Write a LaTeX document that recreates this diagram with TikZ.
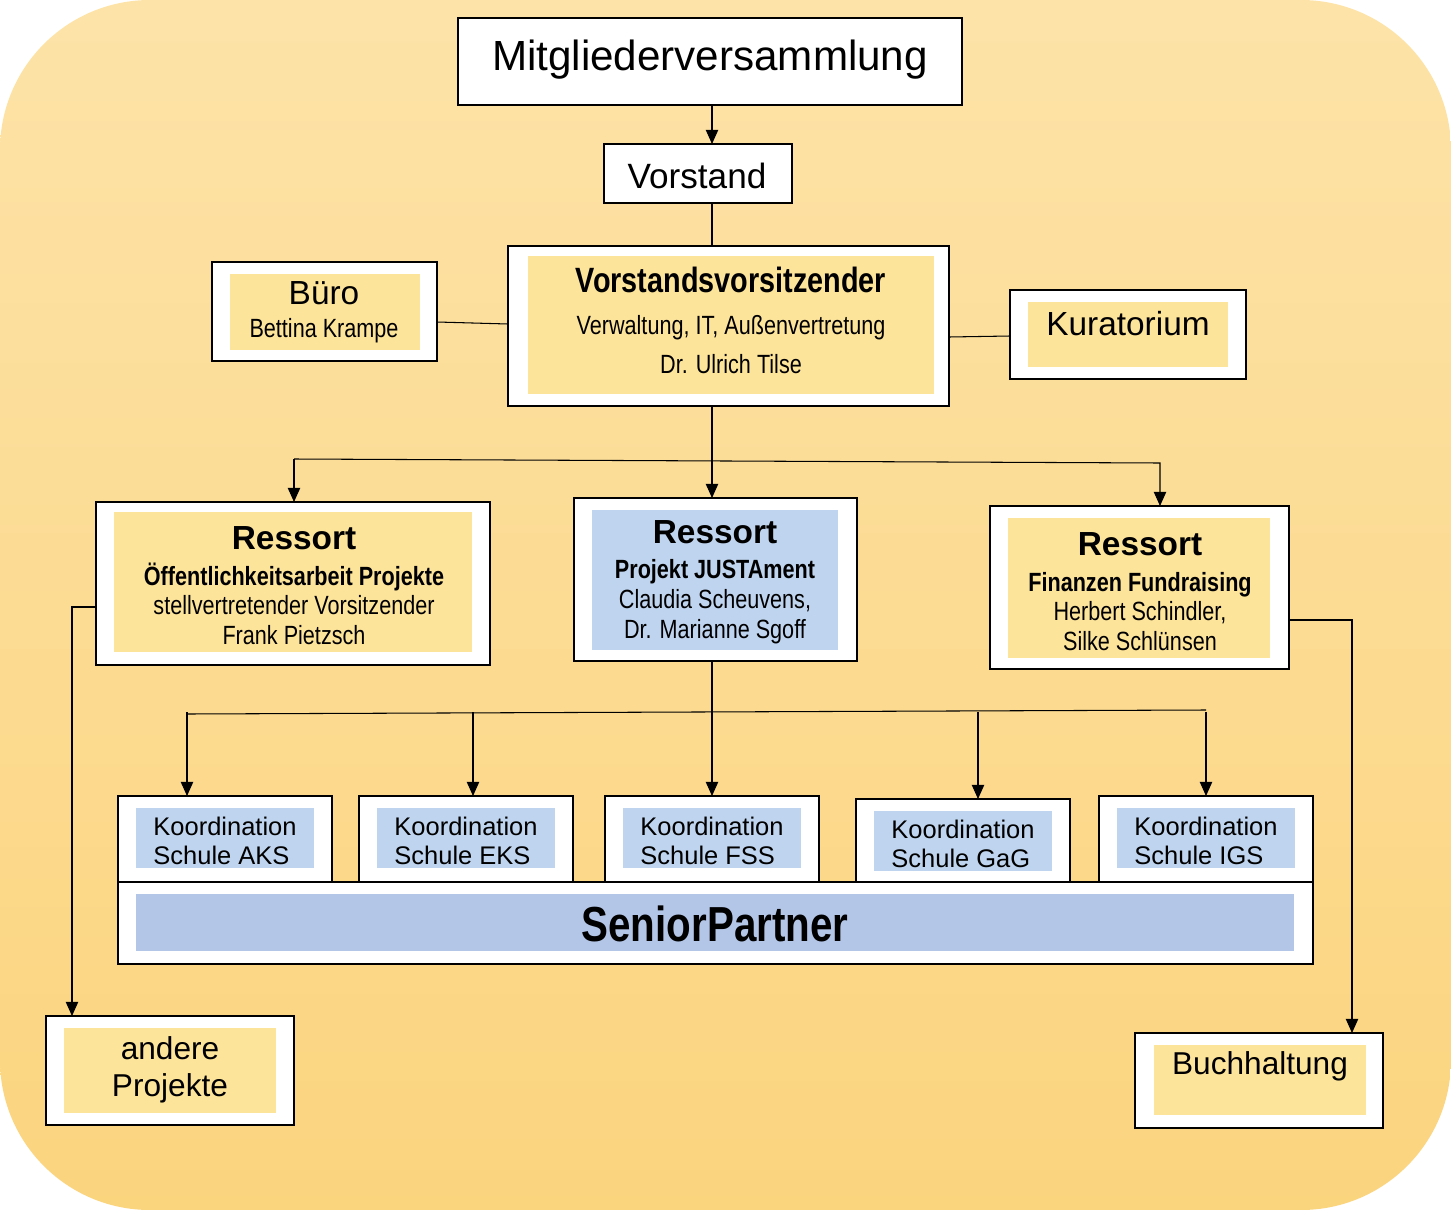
\documentclass[tikz,border=0pt]{standalone}
\usepackage{fontspec}
\setmainfont{Liberation Sans}
\newfontfamily\narrowfont[FakeStretch=0.82]{Liberation Sans}
\usetikzlibrary{arrows.meta}
\definecolor{bgtop}{HTML}{FDE3A8}
\definecolor{bgbot}{HTML}{FBD47E}
\definecolor{paleyellow}{HTML}{FDE49B}
\definecolor{paleblue}{HTML}{BFD4EE}
\definecolor{seniorblue}{HTML}{B4C6E7}
\tikzset{
  outer/.style={draw=black, fill=white, line width=0.6pt, inner sep=0pt},
  sub/.style={align=center, font=\narrowfont\fontsize{15}{17}\selectfont},
  link/.style={line width=0.6pt},
  arr/.style={line width=0.6pt, -{Triangle[length=8pt,width=7pt]}}
}
\newcommand{\pbox}[6]{% name, x1, y1, x2, y2, extra style
  \path[#6] (#2,#3) rectangle (#4,#5);
  \coordinate (#1) at ({(#2+#4)/2},{(#3+#5)/2});}
\begin{document}
\begin{tikzpicture}[x=0.02cm,y=-0.02cm]
\useasboundingbox (0,0) rectangle (1451,1210);
% background
\shade[top color=bgtop, bottom color=bgbot, rounded corners=3cm] (0,0) rectangle (1451,1210);
% top
\pbox{mv}{458}{18}{962}{105}{outer}
\node[font=\fontsize{24}{28}\selectfont] (mvT) at (710,60) {Mitgliederversammlung};
\pbox{vs}{604}{144}{792}{203}{outer}
\node[font=\fontsize{20}{24}\selectfont] (vsT) at (697,176) {Vorstand};
% Vorsitz
\pbox{vv}{508}{246}{949}{406}{outer}
\path[fill=paleyellow] (528,256) rectangle (934,394);
\node[sub, font=\narrowfont\fontsize{15}{20}\selectfont] (vvT) at (731,320)
  {{\fontsize{20}{20}\selectfont\bfseries Vorstandsvorsitzender}\\[4pt]
   Verwaltung, IT, Außenvertretung\\[2pt] Dr. Ulrich Tilse};
\pbox{bu}{212}{262}{437}{361}{outer}
\path[fill=paleyellow] (230,274) rectangle (420,350);
\node[sub] (buT) at (324,312) {{\normalfont\fontsize{19}{22}\selectfont Büro}\\[2pt] Bettina Krampe};
\pbox{ku}{1010}{290}{1246}{379}{outer}
\path[fill=paleyellow] (1028,302) rectangle (1228,367);
\node[font=\fontsize{19}{22}\selectfont] (kuT) at (1128,324) {Kuratorium};
% Ressorts
\pbox{rl}{96}{502}{490}{665}{outer}
\path[fill=paleyellow] (114,512) rectangle (472,652);
\node[sub] (rlT) at (294,586) {{\normalfont\fontsize{19}{21}\selectfont\bfseries Ressort}\\[3pt]
  \bfseries Öffentlichkeitsarbeit Projekte\\ stellvertretender Vorsitzender\\ Frank Pietzsch};
\pbox{rm}{574}{498}{857}{661}{outer}
\path[fill=paleblue] (592,510) rectangle (838,650);
\node[sub] (rmT) at (715,582) {{\normalfont\fontsize{19}{21}\selectfont\bfseries Ressort}\\[3pt]
  \bfseries Projekt JUSTAment\\ Claudia Scheuvens,\\ Dr. Marianne Sgoff};
\pbox{rr}{990}{506}{1289}{669}{outer}
\path[fill=paleyellow] (1008,518) rectangle (1270,658);
\node[sub] (rrT) at (1140,592) {{\normalfont\fontsize{19}{21}\selectfont\bfseries Ressort}\\[3pt]
  \bfseries Finanzen Fundraising\\ Herbert Schindler,\\ Silke Schlünsen};
% Koordination
\foreach \n/\xa/\ya/\lab in {k1/118/796/AKS, k2/359/796/EKS, k3/605/796/FSS, k4/856/799/GaG, k5/1099/796/IGS}{
  \pbox{\n}{\xa}{\ya}{\xa+214}{882}{outer}
  \path[fill=paleblue] (\xa+18,\ya+12) rectangle (\xa+196,\ya+72);
  \node[align=left, font=\fontsize{14.5}{16.5}\selectfont] (\n T) at (\xa+107,\ya+45) {Koordination\\Schule \lab};
}
\pbox{sp}{118}{882}{1313}{964}{outer}
\path[fill=seniorblue] (136,894) rectangle (1294,951);
\node[font=\narrowfont\fontsize{28}{30}\selectfont\bfseries] (spT) at (715,924) {SeniorPartner};
% bottom
\pbox{ap}{46}{1016}{294}{1125}{outer}
\path[fill=paleyellow] (64,1028) rectangle (276,1113);
\node[align=center, font=\fontsize{18}{21}\selectfont] (apT) at (170,1070) {andere\\Projekte};
\pbox{bh}{1135}{1033}{1383}{1128}{outer}
\path[fill=paleyellow] (1154,1045) rectangle (1366,1115);
\node[font=\fontsize{18}{21}\selectfont] (bhT) at (1260,1066) {Buchhaltung};
% connectors
\coordinate (mvB) at (712,105); \coordinate (vsA) at (712,144);
\draw[arr] (mvB) -- (vsA);
\coordinate (vsB) at (712,203); \coordinate (vvA) at (712,246);
\draw[link] (vsB) -- (vvA);
\coordinate (buR) at (437,322); \coordinate (vvL) at (508,324);
\draw[link] (buR) -- (vvL);
\coordinate (vvR) at (949,337); \coordinate (kuL) at (1010,336);
\draw[link] (vvR) -- (kuL);
\coordinate (vvB) at (712,406); \coordinate (rmA) at (712,498);
\coordinate (jL) at (294,459); \coordinate (jR) at (1160,463);
\coordinate (rlA) at (294,502); \coordinate (rrA) at (1160,506);
\draw[arr] (vvB) -- (rmA);
\draw[arr] (jL) -- (jR) -- (rrA);
\draw[arr] (jL) -- (rlA);
\coordinate (rmB) at (712,661); \coordinate (hL) at (187,714); \coordinate (hR) at (1206,710);
\draw[link] (rmB) -- (712,712);
\draw[link] (hL) -- (hR);
\foreach \x/\n/\y in {187/k1/796, 473/k2/796, 712/k3/796, 978/k4/799, 1206/k5/796}
  \draw[arr] (\x,712) -- (\x,\y);
\coordinate (rlL) at (96,607); \coordinate (apA) at (72,1016);
\draw[arr] (rlL) -- (72,607) -- (apA);
\coordinate (rrR) at (1289,620); \coordinate (bhA) at (1352,1033);
\draw[arr] (rrR) -- (1352,620) -- (bhA);
\end{tikzpicture}
\end{document}
